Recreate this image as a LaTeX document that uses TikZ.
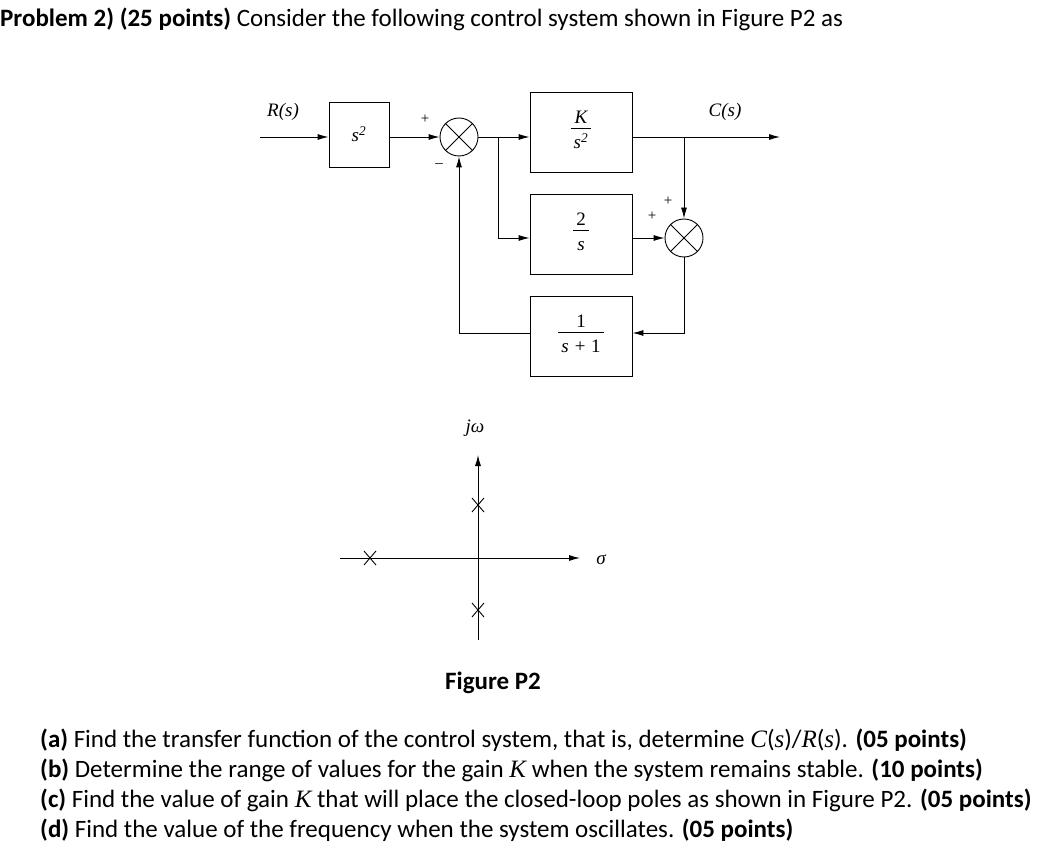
\documentclass[tikz,border=0pt]{standalone}
\usepackage{fontspec}
\setmainfont{Carlito}
\newfontfamily\tms{Liberation Serif}
\usetikzlibrary{arrows.meta}
\newcommand{\myfr}[2]{\begin{tabular}{@{\,}c@{\,}}#1\\[-2pt]\hline\rule{0pt}{20pt}#2\end{tabular}}
\newcommand{\mi}[1]{{\tms\itshape #1}}
\begin{document}
\begin{tikzpicture}[x=1pt,y=-1pt,
  blk/.style={draw,line width=0.9pt,minimum width=102pt,minimum height=80pt,inner sep=0pt,font=\tms\itshape\fontsize{19}{21}\selectfont},
  sm/.style={draw,circle,line width=0.9pt,minimum size=38pt,inner sep=0pt},
  ar/.style={-{Latex[length=11pt,width=6pt]},line width=0.9pt},
  ln/.style={line width=0.9pt},
  lb/.style={font=\tms\itshape\fontsize{19}{21}\selectfont},
  tx/.style={anchor=west,inner sep=0pt,font=\fontsize{25}{28}\selectfont}]
\useasboundingbox (0,0) rectangle (1064,858);
\node[tx] (t) at (0,19) {\textbf{Problem 2) (25 points)} Consider the following control system shown in Figure P2 as};
% block diagram
\coordinate (in) at (260,137);
\node[blk,minimum width=60pt,minimum height=65pt] (b1) at (359,134.5) {s\textsuperscript{2}};
\node[sm] (s1) at (459,137) {};
\draw[ln] (s1.45)--(s1.225) (s1.135)--(s1.315);
\node[blk] (bk) at (581,132) {\myfr{K}{s\textsuperscript{2}}};
\node[blk] (b2) at (581,234) {\myfr{\upshape 2}{s}};
\node[blk] (b3) at (581,336) {\myfr{\upshape 1}{s + \upshape 1}};
\node[sm] (s2) at (684,238) {};
\draw[ln] (s2.45)--(s2.225) (s2.135)--(s2.315);
\coordinate (out) at (780,137);
\coordinate (br1) at (498,137);
\coordinate (br2) at (684,137);
\draw[ar] (in) -- (b1.west|-in);
\draw[ar] (b1.east|-in) -- (s1.west);
\draw[ar] (s1.east) -- (bk.west|-in);
\draw[ar] (bk.east|-in) -- (out);
\draw[ar] (br1) |- (b2.west|-s2);
\draw[ar] (br2) -- (s2.north);
\draw[ar] (b2.east|-s2) -- (s2.west);
\draw[ar] (s2.south) |- (b3.east|-{(0,333)});
\draw[ar] (b3.west|-{(0,333)}) -| (s1.south);
\node[lb] (rs) at (283,112) {R(s)};
\node[lb] (cs) at (725,112) {C(s)};
\node[font=\tms\fontsize{15}{15}\selectfont] (p1) at (425,119) {+};
\node[font=\tms\fontsize{15}{15}\selectfont] (m1) at (439,166) {–};
\node[font=\tms\fontsize{15}{15}\selectfont] (p2) at (668,201) {+};
\node[font=\tms\fontsize{15}{15}\selectfont] (p3) at (652,216) {+};
% pole plot
\coordinate (vb) at (478,640);
\coordinate (vt) at (478,455);
\coordinate (hl) at (340,558);
\coordinate (hr) at (580,558);
\draw[ar] (vb) -- (vt);
\draw[ar] (hl) -- (hr);
\node[lb] (jw) at (475,428) {jω};
\node[lb] (sg) at (601,560) {σ};
\foreach \n/\p in {x1/{(478,505)},x2/{(478,610)},x3/{(370,558)}}{
  \node[inner sep=0pt] (\n) at \p {};
  \draw[ln] ([shift={(-6,-7)}]\n.center) -- ([shift={(6,7)}]\n.center) ([shift={(-6,7)}]\n.center) -- ([shift={(6,-7)}]\n.center);}
\node[font=\bfseries\fontsize{25}{28}\selectfont] (fig) at (493,683) {Figure P2};
\node[tx] (qa) at (40,740) {\textbf{(a)} Find the transfer function of the control system, that is, determine \mi{C}(\mi{s})/\mi{R}(\mi{s}). \textbf{(05 points)}};
\node[tx] (qb) at (40,770) {\textbf{(b)} Determine the range of values for the gain \mi{K} when the system remains stable. \textbf{(10 points)}};
\node[tx] (qc) at (40,800) {\textbf{(c)} Find the value of gain \mi{K} that will place the closed-loop poles as shown in Figure P2. \textbf{(05 points)}};
\node[tx] (qd) at (40,830) {\textbf{(d)} Find the value of the frequency when the system oscillates. \textbf{(05 points)}};
\end{tikzpicture}
\end{document}
